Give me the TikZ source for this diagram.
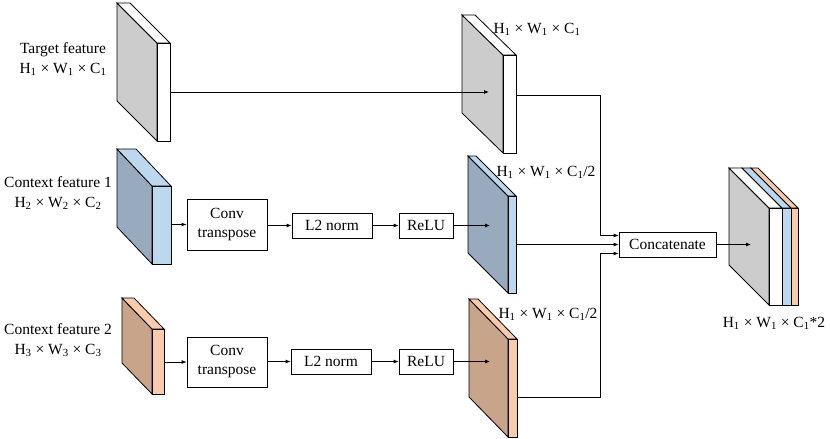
\documentclass[tikz,border=0pt]{standalone}
\usepackage{fontspec}
\setmainfont{Liberation Serif}
\usetikzlibrary{arrows.meta,calc}
\definecolor{slabgray}{RGB}{204,204,204}
\definecolor{bluedark}{RGB}{152,170,190}
\definecolor{bluelight}{RGB}{189,215,238}
\definecolor{orgdark}{RGB}{200,164,139}
\definecolor{orglight}{RGB}{248,203,173}
\newcommand\fslab[9]{%
  \draw[slabline,fill=#8] (#2,#3) -- ++(#4,#5) -- ++(0,#7) -- ++(-#4,-#5) -- cycle;
  \draw[slabline,fill=#9] (#2,#3) -- ++(#6,0) -- ++(#4,#5) -- ++(-#6,0) -- cycle;
  \node[slabline,draw,fill=#9,minimum width=#6pt,minimum height=#7pt,inner sep=0pt,outer sep=0pt,anchor=north west] (#1) at ($(#2,#3)+(#4,#5)$) {};
}
\newcommand\sub[1]{\textsubscript{#1}}
\begin{document}
\begin{tikzpicture}[x=1pt,y=-1pt,
  slabline/.style={line width=0.8pt,line join=miter},
  opbox/.style={draw,line width=0.8pt,inner sep=0pt,align=center,font=\fontsize{15.5}{19}\selectfont},
  lbl/.style={inner sep=0pt,align=center,font=\fontsize{15.5}{20}\selectfont},
  arr/.style={line width=0.8pt,-{Latex[length=5pt,width=4pt]}},
  ln/.style={line width=0.8pt}]
\useasboundingbox (0,0) rectangle (830,439);
% slabs
\fslab{t1}{117}{3}{40}{40}{13}{98}{slabgray}{white}
\fslab{t2}{462}{15}{41}{40}{13}{98}{slabgray}{white}
\fslab{c1}{117}{149}{35}{37}{19}{78}{bluedark}{bluelight}
\fslab{c2}{122}{298}{30}{31}{12}{65}{orgdark}{orglight}
\fslab{b1}{468}{156}{40}{40}{8}{97}{bluedark}{bluelight}
\fslab{o1}{469}{299}{39}{40}{9}{98}{orgdark}{orglight}
% output slab
\draw[slabline,fill=slabgray] (729,168) -- ++(40,40) -- ++(0,97) -- ++(-40,-40) -- cycle;
\draw[slabline,fill=white] (729,168) -- ++(13,0) -- ++(40,40) -- ++(-13,0) -- cycle;
\draw[slabline,fill=bluelight] (742,168) -- ++(9,0) -- ++(40,40) -- ++(-9,0) -- cycle;
\draw[slabline,fill=orglight] (751,168) -- ++(7,0) -- ++(40,40) -- ++(-7,0) -- cycle;
\node[slabline,draw,fill=white,minimum width=13pt,minimum height=97pt,inner sep=0pt,anchor=north west] (out1) at (769,208) {};
\node[slabline,draw,fill=bluelight,minimum width=9pt,minimum height=97pt,inner sep=0pt,anchor=north west] (out2) at (782,208) {};
\node[slabline,draw,fill=orglight,minimum width=7pt,minimum height=97pt,inner sep=0pt,anchor=north west] (out3) at (791,208) {};
% boxes
\node[opbox,minimum width=80pt,minimum height=51pt] (conv1) at (227,224.5) {Conv\\transpose};
\node[opbox,minimum width=80pt,minimum height=25pt] (l2a) at (332,225.5) {L2 norm};
\node[opbox,minimum width=54pt,minimum height=25pt] (relu1) at (426,225.5) {ReLU};
\node[opbox,minimum width=80pt,minimum height=50pt] (conv2) at (227,362) {Conv\\transpose};
\node[opbox,minimum width=80pt,minimum height=25pt] (l2b) at (331,361.5) {L2 norm};
\node[opbox,minimum width=54pt,minimum height=25pt] (relu2) at (426,361.5) {ReLU};
\node[opbox,minimum width=97pt,minimum height=25pt] (cat) at (667.5,244.5) {Concatenate};
% ports
\coordinate (t1o) at (170,92);
\coordinate (t2i) at (489,92);
\coordinate (t2o) at (516,95);
\coordinate (c1o) at (171,224.5);
\coordinate (c2o) at (164,362);
\coordinate (b1i) at (490,225.5);
\coordinate (b1o) at (516,244.5);
\coordinate (o1i) at (490,361.5);
\coordinate (o1o) at (517,397);
\coordinate (outi) at (751,244.5);
\coordinate (j1) at (600,95);
\coordinate (j2) at (600,397);
% connectors
\draw[arr] (t1o) -- (t2i);
\draw[arr] (t2o) -- (j1) |- ($(cat.west)+(0,-9)$);
\draw[arr] (b1o) -- (cat.west);
\draw[arr] (o1o) -- (j2) |- ($(cat.west)+(0,9)$);
\draw[arr] (cat.east) -- (outi);
\draw[arr] (c1o) -- (conv1.west);
\draw[arr] (conv1.east |- l2a.west) -- (l2a.west);
\draw[arr] (l2a.east) -- (relu1.west);
\draw[arr] (relu1.east) -- (b1i);
\draw[arr] (c2o) -- (conv2.west);
\draw[arr] (conv2.east |- l2b.west) -- (l2b.west);
\draw[arr] (l2b.east) -- (relu2.west);
\draw[arr] (relu2.east) -- (o1i);
% labels
\node[lbl] (lt1) at (63,59) {Target feature\\H\sub{1} × W\sub{1} × C\sub{1}};
\node[lbl] (lc1) at (58,193) {Context feature 1\\H\sub{2} × W\sub{2} × C\sub{2}};
\node[lbl] (lc2) at (58,340) {Context feature 2\\H\sub{3} × W\sub{3} × C\sub{3}};
\node[lbl] (lt2) at (537,29) {H\sub{1} × W\sub{1} × C\sub{1}};
\node[lbl] (lb1) at (546,172) {H\sub{1} × W\sub{1} × C\sub{1}/2};
\node[lbl] (lo1) at (548,314) {H\sub{1} × W\sub{1} × C\sub{1}/2};
\node[lbl] (lout) at (774,323) {H\sub{1} × W\sub{1} × C\sub{1}*2};
\end{tikzpicture}
\end{document}
